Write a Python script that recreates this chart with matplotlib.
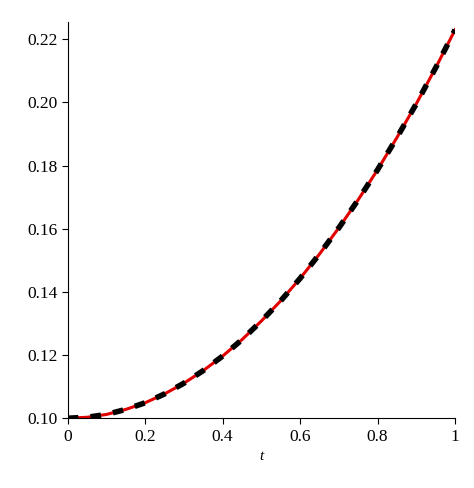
import matplotlib
matplotlib.use("Agg")
import matplotlib.pyplot as plt

t = [0.0, 0.05, 0.1, 0.15, 0.2, 0.25, 0.3, 0.35, 0.4, 0.45, 0.5, 0.55, 0.6, 0.65, 0.7, 0.75, 0.8, 0.85, 0.9, 0.95, 1.0]
y = [0.1000, 0.1003, 0.1012, 0.1028, 0.1049, 0.1077, 0.1111, 0.1151, 0.1197, 0.1249, 0.1308, 0.1372, 0.1443, 0.1520, 0.1603, 0.1692, 0.1787, 0.1889, 0.1996, 0.2110, 0.2230]
yticks = [0.10, 0.12, 0.14, 0.16, 0.18, 0.20, 0.22]
xticks = [0, 0.2, 0.4, 0.6, 0.8, 1]
xlabels = ["0", "0.2", "0.4", "0.6", "0.8", "1"]

plt.rcParams['font.family'] = ['Liberation Serif']
fig = plt.figure(figsize=(4.74, 4.88), dpi=100)
ax = fig.add_axes([0.143, 0.143, 0.817, 0.812])
ax.plot(t, y, color='#e00000', lw=2.2)
ax.plot(t, y, color='black', lw=4, linestyle=(0, (1.9, 2.2)))
ax.set_xlim(0, 1)
ax.set_ylim(0.1, 0.2255)
ax.set_yticks(yticks)
ax.set_yticklabels([f"{v:.2f}" for v in yticks])
ax.set_xticks(xticks)
ax.set_xticklabels(xlabels)
ax.tick_params(labelsize=12.5, direction='out', length=4)
ax.spines['top'].set_visible(False)
ax.spines['right'].set_visible(False)
ax.set_xlabel("t", style='italic', fontsize=11)
fig.savefig("out.png")
